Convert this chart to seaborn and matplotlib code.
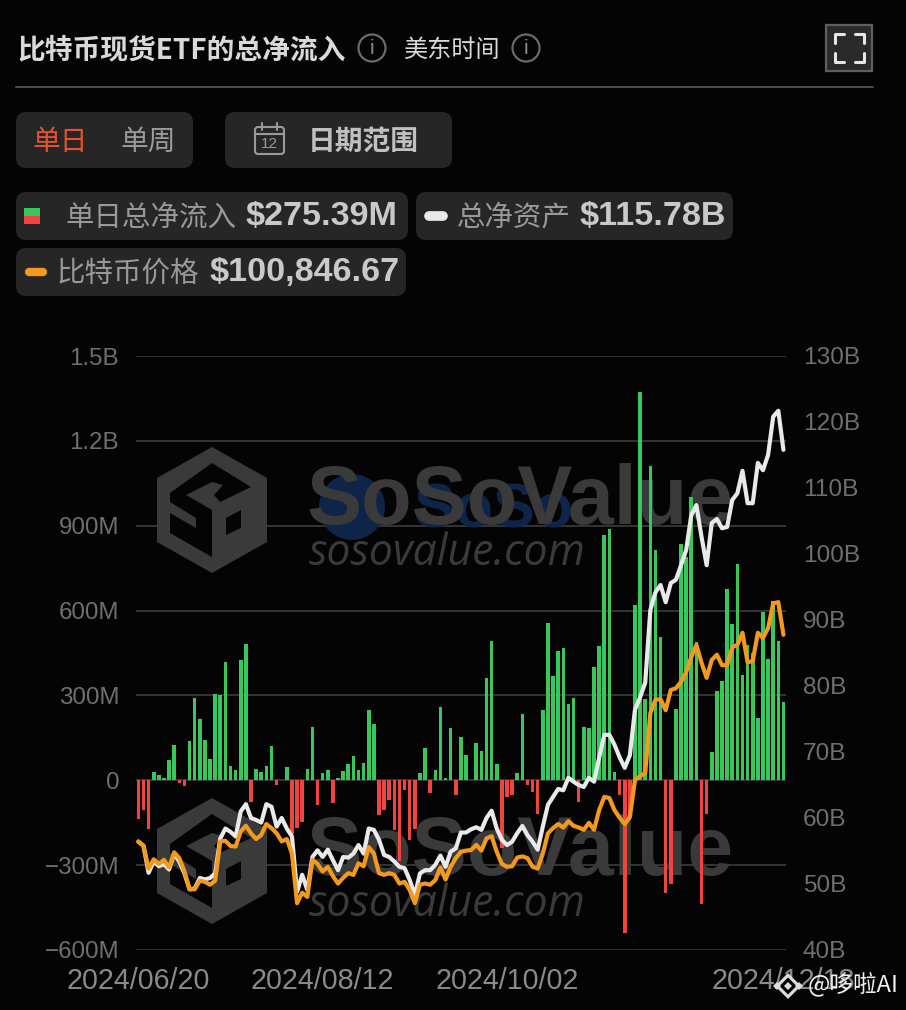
import numpy as np
import pandas as pd
import matplotlib
matplotlib.use('Agg')
import matplotlib.pyplot as plt
import matplotlib.patches as patches
import matplotlib.transforms as transforms
import seaborn as sns

# daily net inflow, millions of USD
net_flow = [-138, -104, -173, 28, 18, 9, 71, 126, -10, -20, 139, 292, 215, 144, 77, 306, 300, 418, 51, 35,
            424, 483, -77, 41, 29, 50, 121, -17, 0, 48, -189, -169, -147, 41, 189, -88, 25, 37, -80, 9,
            34, 59, 85, 37, 62, 249, 200, -124, -104, -71, -174, -285, -35, -210, -171, 26, 114, -44, 37, 260,
            9, 184, -52, 154, 90, 2, 133, 103, 363, 492, 59, -238, -59, -53, 24, 233, -18, -41, -120, 250,
            555, 369, 456, 468, 271, 291, -77, 190, 186, 400, 476, 866, 890, 29, -53, -539, -130, 619, 1373, 289,
            1112, 815, 507, -398, -368, 251, 835, 790, 1002, 489, -436, -120, 100, 316, 351, 675, 554, 764, 371, 477,
            449, 220, 595, 428, 634, 491, 275.39]

# total net assets, billions of USD
net_assets = [56.4, 55.8, 51.7, 53.4, 52.7, 53.0, 52.2, 54.6, 53.4, 51.6, 49.2, 49.3, 50.9, 50.7, 50.9, 51.6, 56.9, 58.4, 57.9, 57.2,
              61.0, 62.1, 60.0, 59.7, 59.3, 62.1, 61.7, 58.7, 60.0, 58.4, 57.2, 48.8, 51.4, 49.1, 54.1, 55.1, 54.1, 55.2, 53.6, 52.1,
              54.1, 54.0, 54.6, 55.9, 54.6, 58.4, 58.2, 56.7, 54.4, 54.1, 53.4, 52.6, 52.4, 50.6, 48.3, 51.6, 52.1, 52.1, 52.9, 54.3,
              52.6, 54.9, 55.4, 57.8, 57.8, 58.3, 58.6, 58.2, 60.0, 61.1, 58.4, 56.7, 55.9, 56.4, 57.7, 58.8, 57.4, 56.4, 55.2, 58.7,
              62.0, 63.2, 64.4, 64.2, 66.1, 65.5, 65.0, 64.7, 66.1, 65.5, 69.1, 72.6, 72.6, 71.1, 69.2, 67.6, 69.5, 76.4, 78.3, 80.5,
              91.5, 94.2, 95.3, 92.7, 95.6, 96.1, 98.3, 100.6, 105.9, 107.4, 102.6, 98.3, 104.7, 105.3, 103.9, 104.1, 108.2, 109.2, 112.6, 107.7,
              107.7, 113.8, 112.7, 115.0, 120.8, 121.7, 115.78]

# bitcoin price, USD
btc_price = [65100, 64300, 60400, 62000, 61200, 61900, 60600, 63200, 62200, 59900, 56800, 56800, 58300, 58100, 57600, 58300, 65100, 65200, 64300, 64200,
             66800, 67800, 66500, 65500, 66200, 68100, 67400, 66500, 65100, 65500, 63000, 54400, 56200, 55500, 61900, 61200, 59900, 60700, 59100, 57800,
             58800, 59600, 59300, 61300, 60800, 64100, 63000, 59600, 59300, 59600, 59300, 57800, 58100, 56700, 54400, 57600, 57800, 57600, 58400, 60600,
             58500, 60700, 62200, 63300, 63500, 63600, 64500, 63500, 65600, 66000, 63300, 61200, 60700, 60800, 62300, 62500, 62200, 60700, 60400, 63000,
             66500, 67400, 68100, 67500, 68600, 67800, 67500, 67100, 68300, 67100, 70500, 72800, 72600, 70500, 69200, 68100, 69300, 75700, 76400, 76900,
             87300, 89600, 89700, 87800, 91300, 91600, 92700, 94400, 97000, 99100, 96000, 93400, 96500, 97400, 95600, 95600, 98700, 99100, 101200, 96100,
             96300, 101200, 100300, 102000, 106300, 106500, 100846.67]

flow_ticks = [-600, -300, 0, 300, 600, 900, 1200, 1500]
flow_labels = ['\u2212600M', '\u2212300M', '0', '300M', '600M', '900M', '1.2B', '1.5B']
asset_ticks = [40, 50, 60, 70, 80, 90, 100, 110, 120, 130]
asset_labels = ['40B', '50B', '60B', '70B', '80B', '90B', '100B', '110B', '120B', '130B']
date_ticks = [0, 36, 72, 126]
date_labels = ['2024/06/20', '2024/08/12', '2024/10/02', '2024/12/18']

BG = '#040404'
GREEN = '#37c75a'
RED = '#ee4540'
WHITE = '#e9e9e9'
ORANGE = '#f39a1e'
GRID = '#3d3d3d'
MARK = '#3a3a3a'
PANEL = '#262626'

sns.set_theme(style='dark', rc={'axes.facecolor': 'none', 'figure.facecolor': BG, 'savefig.facecolor': BG})
plt.rcParams['font.family'] = ['Liberation Sans', 'Noto Sans CJK SC', 'DejaVu Sans']
CJK = ['Noto Sans CJK SC', 'DejaVu Sans']

W, H = 906, 1010
fig = plt.figure(figsize=(W / 100, H / 100), dpi=100)
ax = fig.add_axes([135.8 / W, (H - 950) / H, 650.2 / W, 594 / H])
px = transforms.Affine2D().scale(1, -1).translate(0, H)  # screenshot pixels -> display

df = pd.DataFrame({'day': np.arange(len(net_flow)), 'flow': net_flow, 'assets': net_assets, 'price': btc_price})
df['side'] = np.where(df['flow'] >= 0, 'in', 'out')


def watermark(dy):
    # hexagon logo
    cx, cy = 212, 510 + dy
    hexagon = [(0, -63), (55, -32), (55, 32), (0, 63), (-55, 32), (-55, -32)]
    cut1 = [(0, -47), (39, -23), (8, -8), (2, -15), (11, -25), (0, -28), (-26, -15), (0, 0),
            (0, 47), (-42, 23), (-42, 3), (-16, 18), (-16, 8), (-42, -8), (-42, -17)]
    cut2 = [(14, 8), (29, 0), (29, 18), (14, 25)]
    for shape, colour in [(hexagon, MARK), (cut1, BG), (cut2, BG)]:
        pts = [(cx + a, cy + b) for a, b in shape]
        ax.add_patch(patches.Polygon(pts, closed=True, fc=colour, ec='none', transform=px, clip_on=False, zorder=1))
    ax.text(307, 524 + dy, 'SoSoValue', transform=px, fontsize=59.5, fontweight='bold', color=MARK,
            family='Liberation Sans', ha='left', va='baseline', zorder=1.2)
    ax.text(309, 565 + dy, 'sosovalue.com', transform=px, fontsize=30.8, style='italic', color=MARK,
            family='Open Sans', ha='left', va='baseline', zorder=1.2)


# faint blue ghost logo behind the first watermark
ax.add_patch(patches.Circle((352, 507), 33, fc='#0e2448', ec='none', transform=px, clip_on=False, zorder=1))
ax.text(413, 527, 'SoSo', transform=px, fontsize=45, fontweight='bold', color='#0e2448',
        family='Liberation Sans', ha='left', va='baseline', zorder=1.1)
watermark(0)
watermark(351)

ax.grid(axis='y', color=GRID, lw=1.2, zorder=0)
ax.set_axisbelow(True)
sns.barplot(data=df, x='day', y='flow', hue='side', palette={'in': GREEN, 'out': RED}, dodge=False,
            native_scale=True, width=0.7, legend=False, ax=ax, zorder=2, saturation=1, linewidth=0, edgecolor='none')
ax.set_xlim(-0.5, len(net_flow) - 0.5)
ax.set_ylim(-600, 1500)
ax.set_yticks(flow_ticks, flow_labels)
ax.set_xticks(date_ticks, date_labels)
ax.set_xlabel('')
ax.set_ylabel('')
ax.tick_params(axis='y', length=0, pad=12, labelsize=17.4, labelcolor='#6f6f6f')
ax.tick_params(axis='x', length=0, pad=12.5, labelsize=20.6, labelcolor='#8a8a8a')
sns.despine(ax=ax, left=True, bottom=True)

ax2 = ax.twinx()
sns.lineplot(data=df, x='day', y='assets', color=WHITE, linewidth=3, ax=ax2, solid_joinstyle='round')
ax2.set_ylim(40, 130)
ax2.set_yticks(asset_ticks, asset_labels)
ax2.set_ylabel('')
ax2.grid(False)
ax2.tick_params(axis='y', length=0, pad=12, labelsize=17.6, labelcolor='#6f6f6f')
sns.despine(ax=ax2, left=True, bottom=True, right=True)

ax3 = ax.twinx()
sns.lineplot(data=df, x='day', y='price', color=ORANGE, linewidth=3, ax=ax3, solid_joinstyle='round')
ax3.set_ylim(46300, 149100)
ax3.axis('off')


# page chrome, drawn in screenshot pixels
ui = fig.add_axes([0, 0, 1, 1], zorder=-1)
ui.set_xlim(0, W)
ui.set_ylim(H, 0)
ui.axis('off')
top = fig.add_axes([0, 0, 1, 1], zorder=10)
top.set_xlim(0, W)
top.set_ylim(H, 0)
top.axis('off')


def panel(x0, y0, x1, y1, r=10, fc=PANEL, a=ui):
    a.add_patch(patches.FancyBboxPatch((x0 + r, y0 + r), x1 - x0 - 2 * r, y1 - y0 - 2 * r,
                                       boxstyle='round,pad=%d,rounding_size=%d' % (r, r), fc=fc, ec='none'))


def label(x, y, s, size, colour, weight='normal', ha='left', family=None):
    ui.text(x, y + 2.5, s, fontsize=size, color=colour, fontweight=weight, ha=ha, va='center',
            family=family if family else CJK)


def info(x, y):
    ui.add_patch(patches.Circle((x, y), 13.5, fc='none', ec='#6a6a6a', lw=1.6))
    ui.text(x, y, 'i', fontsize=15, color='#8a8a8a', ha='center', va='center', family='Liberation Sans')


label(17, 48, '比特币现货ETF的总净流入', 20, '#d9d9d9', 'bold')
info(372, 48)
label(404, 47, '美东时间', 17.4, '#d9d9d9')
info(526, 48)
ui.add_patch(patches.Rectangle((826, 25), 46, 46, fc='#2a2a2a', ec='#5f5f5f', lw=1.6))
for cxs, cys, dx, dy in [(835, 34, 1, 1), (864, 34, -1, 1), (835, 62, 1, -1), (864, 62, -1, -1)]:
    ui.plot([cxs, cxs, cxs + 9 * dx], [cys + 9 * dy, cys, cys], color='#e6e6e6', lw=2.2, solid_capstyle='round')
ui.plot([16, 873], [87, 87], color='#4c4c4c', lw=1.4)

panel(16, 112, 193, 168)
label(33, 139, '单日', 20, '#e5532c')
label(121, 139, '单周', 20, '#9a9a9a')
panel(225, 112, 452, 168)
ui.add_patch(patches.FancyBboxPatch((255, 127), 29, 27, boxstyle='round,pad=0,rounding_size=3', fc='none', ec='#9a9a9a', lw=1.5))
ui.plot([255, 284], [134, 134], color='#9a9a9a', lw=1.5)
ui.plot([262, 262], [123, 130], color='#9a9a9a', lw=1.5)
ui.plot([277, 277], [123, 130], color='#9a9a9a', lw=1.5)
ui.text(269.5, 144, '12', fontsize=11, color='#9a9a9a', ha='center', va='center', family='Liberation Sans')
label(308, 139, '日期范围', 20, '#c0c0c0', 'bold')

panel(16, 192, 408, 240)
ui.add_patch(patches.Rectangle((24, 208), 16, 8, fc=GREEN, ec='none'))
ui.add_patch(patches.Rectangle((24, 216), 16, 8, fc=RED, ec='none'))
label(65, 215, '单日总净流入', 20.5, '#999999')
label(246, 214.5, '$275.39M', 24.6, '#c9c9c9', 'bold', family='Liberation Sans')
panel(416, 192, 733, 240)
ui.plot([429, 443], [216, 216], color=WHITE, lw=7, solid_capstyle='round')
label(457, 215, '总净资产', 20.5, '#999999')
label(580, 214.5, '$115.78B', 24.6, '#c9c9c9', 'bold', family='Liberation Sans')
panel(16, 248, 406, 296)
ui.plot([29, 43], [272, 272], color=ORANGE, lw=6, solid_capstyle='round')
label(57, 271, '比特币价格', 20.5, '#999999')
label(209, 270.5, '$100,846.67', 24.6, '#c9c9c9', 'bold', family='Liberation Sans')

# repost mark over the last date label
for r, fill in [(13, '#dcdcdc'), (8.5, BG), (4, '#dcdcdc')]:
    top.add_patch(patches.Polygon([(788, 986 - r), (788 + r, 986), (788, 986 + r), (788 - r, 986)], fc=fill, ec='none'))
for cx in [777, 799]:
    top.add_patch(patches.Polygon([(cx, 982), (cx + 4, 986), (cx, 990), (cx - 4, 986)], fc='#dcdcdc', ec='none'))
top.text(808, 985, '@哆啦AI', fontsize=17, color='#f0f0f0', ha='left', va='center', family=CJK)

fig.savefig('out.png', dpi=100)
